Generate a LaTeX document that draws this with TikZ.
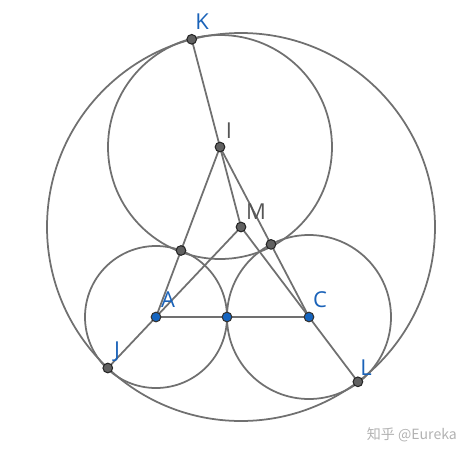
\documentclass[tikz,border=0pt]{standalone}
\usepackage{fontspec}
\setmainfont{Open Sans}
\newfontfamily\cjk{Noto Sans CJK SC}
\definecolor{geoline}{HTML}{707070}
\definecolor{ptblue}{HTML}{1565C0}
\definecolor{ptgray}{HTML}{616161}
\definecolor{lblblue}{HTML}{1A62B8}
\definecolor{lblgray}{HTML}{555555}
\begin{document}
\begin{tikzpicture}[x=0.02cm,y=-0.02cm,
  geo/.style={draw=geoline,line width=1pt},
  bluept/.style={circle,fill=ptblue,draw=black!80,line width=0.6pt,inner sep=0pt,minimum size=5.5pt},
  graypt/.style={circle,fill=ptgray,draw=black!85,line width=0.6pt,inner sep=0pt,minimum size=5.5pt},
  lblB/.style={text=lblblue,font=\fontsize{12.5}{14}\selectfont},
  lblG/.style={text=lblgray,font=\fontsize{12.5}{14}\selectfont}]
\useasboundingbox (0,0) rectangle (474,454);
\coordinate (M) at (241,227);
\coordinate (I) at (220,147);
\coordinate (A) at (156,317);
\coordinate (C) at (309,317);
\coordinate (D) at (227,317);
\coordinate (K) at (191.7,39.3);
\coordinate (J) at (107.8,368);
\coordinate (L) at (357.9,381.8);
\coordinate (T1) at (181,250.5);
\coordinate (T2) at (271,244.4);
% circles
\draw[geo] (M) circle[radius=194];
\draw[geo] (I) circle[radius=112];
\draw[geo] (A) circle[radius=71];
\draw[geo] (C) circle[radius=82];
% lines
\draw[geo] (I) -- (A);
\draw[geo] (I) -- (C);
\draw[geo] (A) -- (C);
\draw[geo] (K) -- (M);
\draw[geo] (J) -- (M);
\draw[geo] (L) -- (M);
% points
\node[graypt] (pK) at (K) {};
\node[graypt] (pI) at (I) {};
\node[graypt] (pM) at (M) {};
\node[graypt] (pJ) at (J) {};
\node[graypt] (pL) at (L) {};
\node[graypt] (pT1) at (T1) {};
\node[graypt] (pT2) at (T2) {};
\node[bluept] (pA) at (A) {};
\node[bluept] (pC) at (C) {};
\node[bluept] (pD) at (D) {};
% labels
\node[lblB] (lK) at (202,22) {K};
\node[lblG] (lI) at (229,131) {I};
\node[lblG] (lM) at (256,212) {M};
\node[lblB] (lA) at (168,300) {A};
\node[lblB] (lC) at (320,300) {C};
\node[lblB] (lJ) at (117,352) {J};
\node[lblB] (lL) at (366,368) {L};
\node[text=black!30,font=\cjk\fontsize{8}{9}\selectfont,anchor=east] (wm) at (463,435) {知乎 @Eureka};
\end{tikzpicture}
\end{document}
